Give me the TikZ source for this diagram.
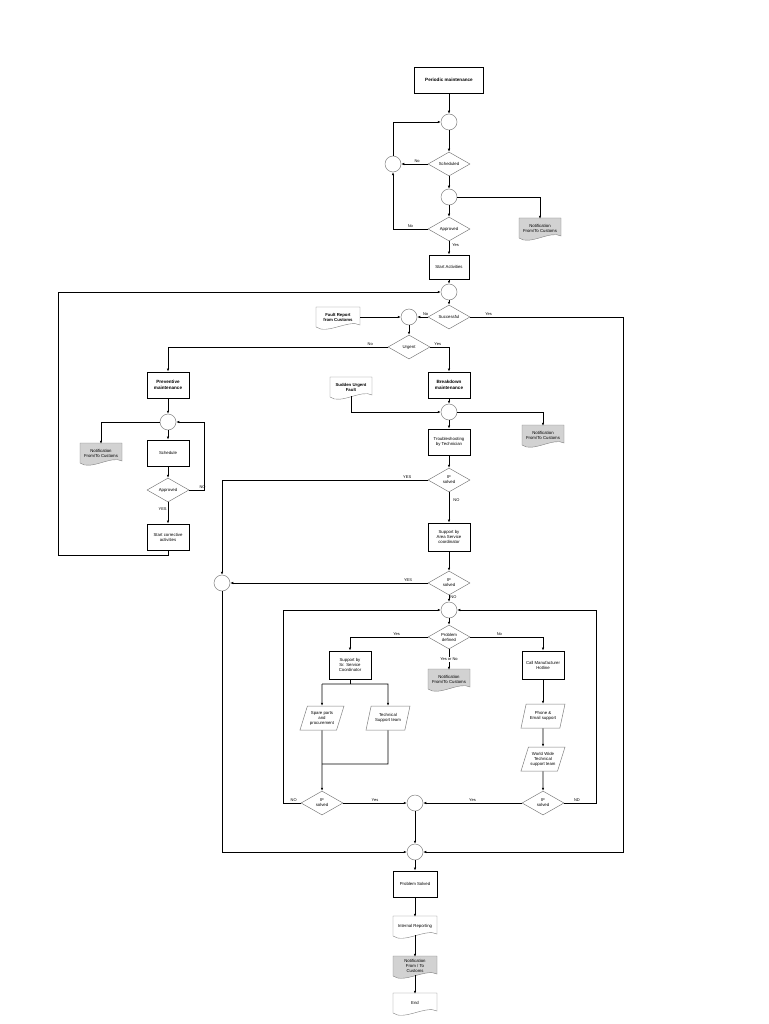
\documentclass[tikz,border=0pt]{standalone}
\usepackage{fontspec}
\setmainfont{Liberation Sans}
\usetikzlibrary{shapes.geometric,arrows.meta}
\tikzset{
 every node/.style={font=\fontsize{4.3}{5}\selectfont, align=center, inner sep=1pt},
 box/.style={draw, line width=0.9pt, minimum width=42pt, minimum height=26pt},
 bbox/.style={box, font=\fontsize{4.6}{5.4}\selectfont\bfseries},
 dec/.style={draw=gray, line width=0.5pt, diamond, aspect=1.75, minimum width=42pt, minimum height=24pt, inner sep=0pt},
 jn/.style={draw=gray, line width=0.5pt, circle, minimum size=16pt, inner sep=0pt},
 para/.style={draw=gray, line width=0.5pt, trapezium, trapezium left angle=65, trapezium right angle=115, minimum width=44pt, minimum height=24pt, trapezium stretches body},
 ln/.style={line width=0.8pt, -{Latex[length=3pt,width=2.5pt]}},
 pl/.style={line width=0.8pt},
 lbl/.style={font=\fontsize{4}{5}\selectfont},
}
\newcommand{\docnode}[6]{% name, x, y, w, text, fill
 \filldraw[fill=#6, draw=gray, line width=0.4pt]
  ({#2-#4/2},{#3-11}) -- ({#2+#4/2},{#3-11}) -- ({#2+#4/2},{#3+7})
  .. controls ({#2+#4/4},{#3+1}) and ({#2-#4/4},{#3+17}) .. ({#2-#4/2},{#3+9}) -- cycle;
 \node[minimum width=#4 pt, minimum height=18pt] (#1) at (#2,#3-1) {#5};
}
\begin{document}
\begin{tikzpicture}[x=1pt,y=-1pt]
\useasboundingbox (0,0) rectangle (768,1024);
\fill[white] (0,0) rectangle (768,1024);
% top
\node[bbox, minimum width=69pt] (pm) at (449,80) {Periodic maintenance};
\node[jn] (c1) at (449,122) {};
\node[dec] (sch) at (449,164) {Scheduled};
\node[jn] (c2) at (393,164) {};
\node[jn] (c3) at (449,197) {};
\docnode{n1}{540}{229}{42}{Notification\\From/To Customs}{gray!35}
\node[dec] (app) at (449,229) {Approved};
\node[box, minimum width=40pt, minimum height=24pt] (sa) at (449,267) {Start Activities};
\node[jn] (c4) at (449,292) {};
\node[dec] (suc) at (449,317) {Successful};
\node[jn] (c5) at (409,317) {};
\docnode{fr}{338}{318}{44}{\bfseries Fault Report\\\bfseries from Customs}{white}
\node[dec] (urg) at (409,347) {Urgent};
\node[bbox] (pv) at (168,385) {Preventive\\maintenance};
\node[bbox] (bd) at (449,385) {Breakdown\\maintenance};
\docnode{su}{351}{388}{42}{\bfseries Sudden Urgent\\\bfseries Fault}{white}
\node[jn] (c6) at (168,422) {};
\node[jn] (c7) at (449,412) {};
\docnode{n2}{101}{454}{42}{Notification\\From/To Customs}{gray!35}
\docnode{n3}{543}{436}{42}{Notification\\From/To Customs}{gray!35}
\node[box] (sd) at (168,453) {Schedule};
\node[dec] (ap2) at (168,490) {Approved};
\node[box] (sc) at (168,537) {Start corrective\\activities};
\node[box] (tr) at (449,442) {Troubleshooting\\by Technician};
\node[dec] (if1) at (449,480) {IF\\solved};
\node[box, minimum height=28pt] (ar) at (449,537) {Support by\\Area Service\\coordinator};
\node[jn] (c8) at (222,583) {};
\node[dec] (if2) at (449,583) {IF\\solved};
\node[jn] (c9) at (449,610) {};
\node[dec] (pd) at (449,637) {Problem\\defined};
\node[box, minimum height=28pt] (sr) at (350,665) {Support by\\Sr. Service\\Coordinator};
\docnode{n4}{449}{680}{42}{Notification\\From/To Customs}{gray!35}
\node[box, minimum height=28pt] (cm) at (543,665) {Call Manufacturer\\Hotline};
\node[para] (sp) at (322,718) {Spare parts\\and\\procurement};
\node[para] (ts) at (388,718) {Technical\\Support team};
\node[para] (ph) at (543,716) {Phone \&\\Email support};
\node[para] (ww) at (543,759) {World Wide\\Technical\\support team};
\node[dec] (if3) at (322,803) {IF\\solved};
\node[jn] (c10) at (415,803) {};
\node[dec] (if4) at (543,803) {IF\\solved};
\node[jn] (c11) at (415,852) {};
\node[box, minimum width=44pt] (ps) at (415,884) {Problem Solved};
\docnode{ir}{415}{927}{44}{Internal Reporting}{white}
\docnode{n5}{415}{967}{44}{Notification\\From / To\\Customs}{gray!35}
\docnode{en}{415}{1004}{44}{End}{white}
% connectors top
\draw[ln] (pm) -- (c1);
\draw[ln] (c1) -- (sch);
\draw[ln] (sch) -- node[lbl,above,pos=0.4]{No} (c2);
\draw[ln] (c2) |- (c1);
\draw[ln] (sch) -- (c3);
\draw[ln] (c3) -- (app);
\draw[ln] (c3) -| (n1.north);
\draw[ln] (app.west) -| node[lbl,above,pos=0.25]{No} (c2.south);
\draw[ln] (app) -- node[lbl,right,pos=0.3,xshift=2pt]{Yes} (sa);
\draw[ln] (sa) -- (c4);
\draw[ln] (c4) -- (suc);
\draw[ln] (suc) -- node[lbl,above,pos=0.2]{No} (c5);
\draw[ln] (suc.east) -- node[lbl,above,pos=0.12]{Yes} (623,317) |- (c11);
\draw[ln] (fr.east) -- (c5);
\draw[ln] (c5) -- (urg);
\draw[ln] (urg.west) -- node[lbl,above,pos=0.08]{No} (168,347) -- (pv);
\draw[ln] (urg.east) -- node[lbl,above,pos=0.4]{Yes} (449,347) -- (bd);
% left branch
\draw[ln] (sc.south) -- (168,555) -- (58,555) |- (c4);
\draw[ln] (pv) -- (c6);
\draw[ln] (c6) -| (n2.north);
\draw[ln] (c6) -- (sd);
\draw[ln] (sd) -- (ap2);
\draw[ln] (ap2.east) -- node[lbl,above right,pos=0.6]{NO} (204,490) |- (c6);
\draw[ln] (ap2) -- node[lbl,left,pos=0.3]{YES} (sc);
% breakdown
\draw[ln] (bd) -- (c7);
\draw[ln] (su.south) -- (351,412) -- (c7);
\draw[ln] (c7) -| (n3.north);
\draw[ln] (c7) -- (tr);
\draw[ln] (tr) -- (if1);
\draw[ln] (if1.west) -- node[lbl,above,pos=0.1]{YES} (222,480) -- (c8);
\draw[ln] (if1) -- node[lbl,right,pos=0.25,xshift=3pt]{NO} (ar);
\draw[ln] (ar) -- (if2);
\draw[ln] (if2) -- node[lbl,above,pos=0.1]{YES} (c8);
\draw[ln] (c8) |- (c11);
\draw[ln] (if2) -- node[lbl,right,pos=0.3]{NO} (c9);
\draw[ln] (c9) -- (pd);
\draw[ln] (pd.west) -- node[lbl,above,pos=0.4]{Yes} (350,637) -- (sr);
\draw[ln] (pd.east) -- node[lbl,above,pos=0.4]{No} (543,637) -- (cm);
\draw[ln] (pd) -- node[lbl,fill=white]{Yes or No} (n4.north);
\draw[pl] (sr.south) -- (350,684);
\draw[ln] (322,684) -- (388,684) -- (ts.north);
\draw[ln] (322,684) -- (sp.north);
\draw[pl] (ts.south) -- (388,764) -- (322,764);
\draw[ln] (sp.south) -- (if3);
\draw[ln] (if3) -- node[lbl,above]{Yes} (c10);
\draw[ln] (if3.west) -- node[lbl,above,pos=0.4]{NO} (283,803) |- (c9);
\draw[ln] (cm) -- (ph);
\draw[ln] (ph) -- (ww);
\draw[ln] (ww) -- (if4);
\draw[ln] (if4) -- node[lbl,above]{Yes} (c10);
\draw[ln] (if4.east) -- node[lbl,above,pos=0.4]{ND} (596,803) |- (c9);
\draw[ln] (c10) -- (c11);
\draw[ln] (c11) -- (ps);
\draw[ln] (ps) -- (ir.north);
\draw[ln] (415,935) -- (n5.north);
\draw[ln] (415,975) -- (en.north);
\end{tikzpicture}
\end{document}
